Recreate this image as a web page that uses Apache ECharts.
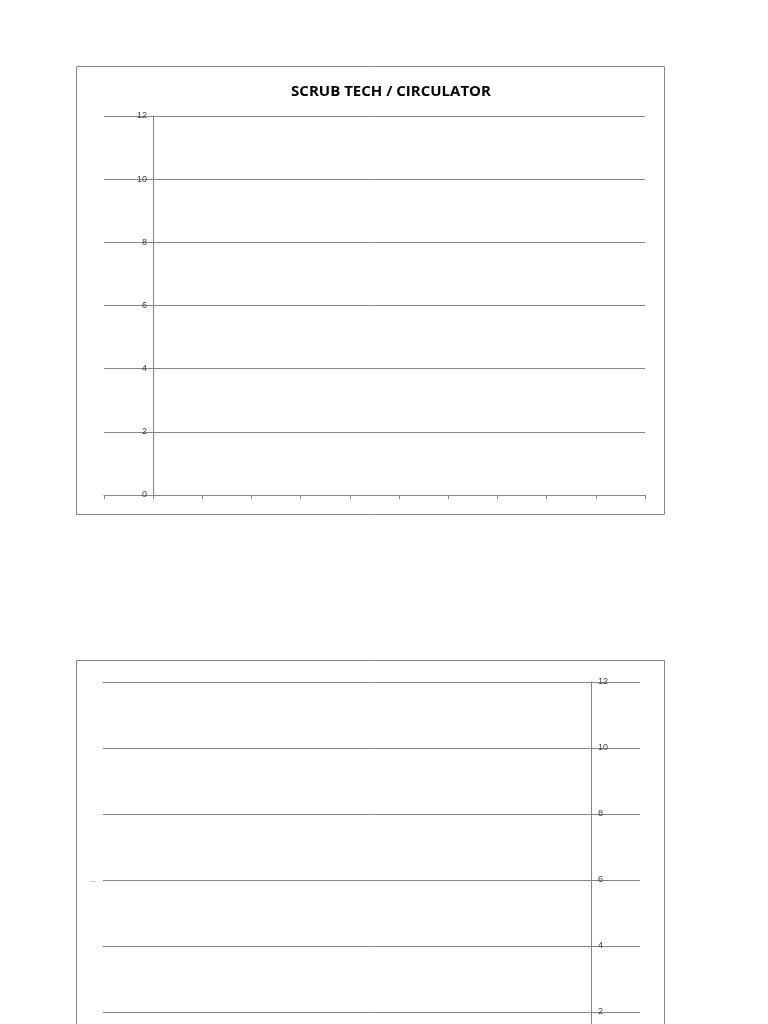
<!DOCTYPE html>
<html>
<head>
<meta charset="utf-8">
<style>
html,body{margin:0;padding:0;background:#fff;overflow:hidden;}
#c{width:768px;height:1120px;}
</style>
<script src="https://cdn.jsdelivr.net/npm/echarts@6/dist/echarts.min.js"></script>
</head>
<body>
<div id="c"></div>
<script>
// Data (the reference charts contain no plotted values)
const chartTitle = "SCRUB TECH / CIRCULATOR";
const xCategoryBounds = [-1, 10];        // 11 category slots; value axis crosses at 0
const yRange = [0, 12];
const yInterval = 2;
const seriesTop = [];                    // no data drawn in reference
const seriesBottom = [];                 // no data drawn in reference

const chart = echarts.init(document.getElementById('c'), null, {renderer: 'canvas'});
const lineColor = '#858585';
const labelStyle = {fontFamily: 'Liberation Sans, Arial, sans-serif', fontSize: 9, color: '#404040'};

const option = {
  backgroundColor: '#ffffff',
  animation: false,
  title: {
    text: chartTitle,
    left: 386,
    top: 79,
    textAlign: 'center',
    textStyle: {fontFamily: 'Open Sans, sans-serif', fontWeight: 'bold', fontSize: 15, color: '#000'}
  },
  graphic: [
    {type: 'rect', shape: {x: 76.5, y: 66.5, width: 588, height: 448}, style: {fill: 'none', stroke: lineColor, lineWidth: 1}, silent: true},
    {type: 'rect', shape: {x: 76.5, y: 660.5, width: 588, height: 420}, style: {fill: 'none', stroke: lineColor, lineWidth: 1}, silent: true},
    {type: 'rect', shape: {x: 90, y: 881, width: 6, height: 1}, style: {fill: '#c8c8c8'}, silent: true}
  ],
  grid: [
    {left: 104, top: 116, width: 541, height: 379},
    {left: 103, top: 682, width: 537, height: 396}
  ],
  xAxis: [
    {
      gridIndex: 0, type: 'value', min: xCategoryBounds[0], max: xCategoryBounds[1], interval: 1,
      axisLine: {show: true, onZero: false, lineStyle: {color: lineColor, width: 1}},
      axisTick: {show: true, length: 4, lineStyle: {color: lineColor}},
      axisLabel: {show: false},
      splitLine: {show: false}
    },
    {
      gridIndex: 1, type: 'value', inverse: true, min: xCategoryBounds[0], max: xCategoryBounds[1], interval: 1,
      axisLine: {show: true, onZero: false, lineStyle: {color: lineColor, width: 1}},
      axisTick: {show: true, length: 4, lineStyle: {color: lineColor}},
      axisLabel: {show: false},
      splitLine: {show: false}
    }
  ],
  yAxis: [
    {
      gridIndex: 0, type: 'value', min: yRange[0], max: yRange[1], interval: yInterval,
      axisLine: {show: true, onZero: true, lineStyle: {color: lineColor, width: 1}},
      axisTick: {show: false},
      axisLabel: Object.assign({margin: -43}, labelStyle),
      splitLine: {show: true, lineStyle: {color: lineColor, width: 1}}
    },
    {
      gridIndex: 1, type: 'value', min: yRange[0], max: yRange[1], interval: yInterval, position: 'right',
      axisLine: {show: true, onZero: true, lineStyle: {color: lineColor, width: 1}},
      axisTick: {show: false},
      axisLabel: Object.assign({margin: -42}, labelStyle),
      splitLine: {show: true, lineStyle: {color: lineColor, width: 1}}
    }
  ],
  series: [
    {type: 'line', xAxisIndex: 0, yAxisIndex: 0, data: seriesTop},
    {type: 'line', xAxisIndex: 1, yAxisIndex: 1, data: seriesBottom}
  ]
};
chart.setOption(option);
</script>
</body>
</html>
